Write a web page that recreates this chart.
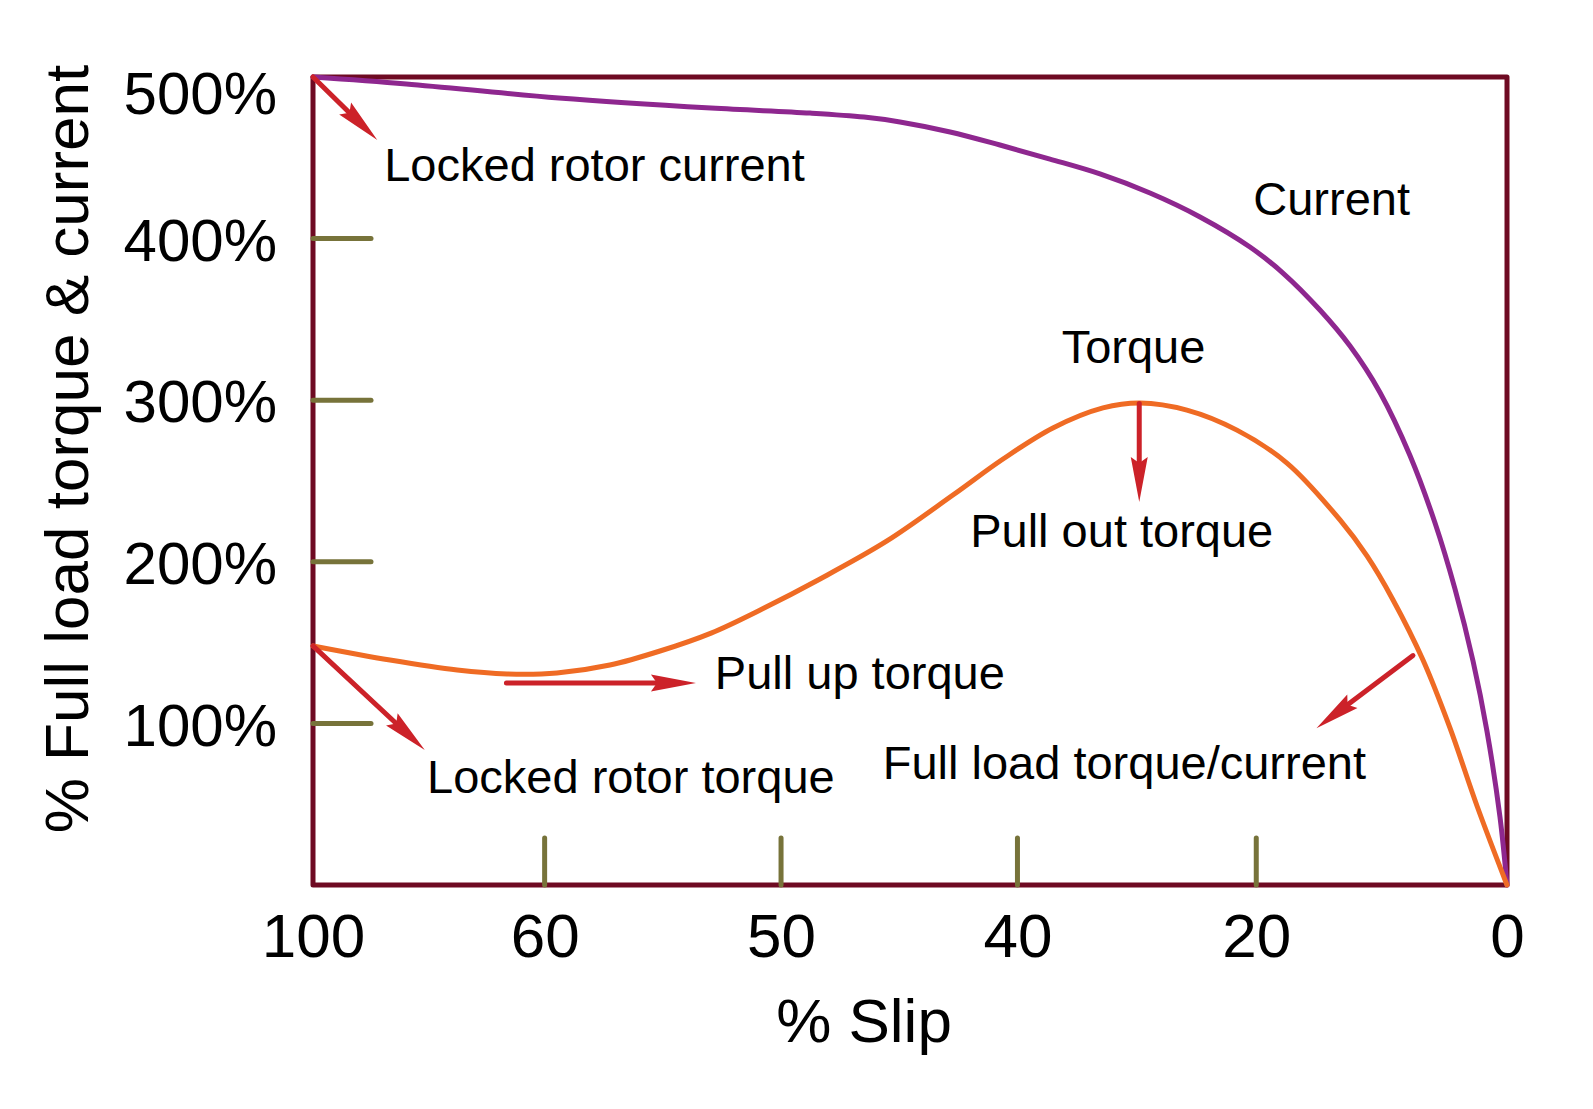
<!DOCTYPE html>
<html>
<head>
<meta charset="utf-8">
<script src="https://cdn.jsdelivr.net/npm/d3@7"></script>
<style>
  body { margin: 0; background: #ffffff; }
  svg { display: block; }
</style>
</head>
<body>
<div id="chart"></div>
<script>
// axis ticks
const slipTicks = [100, 60, 50, 40, 20, 0];
const pctTicks = [100, 200, 300, 400, 500];
const slipMarks = [60, 50, 40, 20];
const pctMarks = [100, 200, 300, 400];

// current curve (% slip, % full load)
const currentSlip = [100, 83.9, 59.4, 52.96, 48.77, 46.49, 44.97, 42.85, 40.74, 37.28, 33.09, 28.9, 24.71, 20.53, 17.87, 14.92, 12.52, 10.13, 7.74, 5.74, 4.15, 2.71, 1.6, 0.56, 0];
const currentPct = [500, 495.7, 487, 480.8, 477.7, 475.2, 472.2, 466, 457.9, 449.2, 440, 428.2, 413.4, 394.8, 378.7, 355.8, 333.5, 304.8, 265.8, 224, 183.2, 138.6, 95.3, 42.1, 0];

// torque curve
const torqueSlip = [100, 86.7, 75.1, 66.5, 59.48, 57.24, 55.12, 52.96, 50.8, 48.35, 45.52, 42.73, 40.61, 37.03, 32.84, 29.74, 25.81, 21.62, 17.55, 13.32, 11.17, 9.09, 6.7, 4.55, 2.39, 0];
const torquePct = [147.9, 139.2, 133, 130.6, 131.2, 136.1, 144.8, 155.9, 170.8, 189.4, 212.9, 241.3, 263.6, 282.8, 295.2, 298.3, 293.9, 281.5, 261.1, 225.9, 203.6, 176.4, 139.2, 97.2, 48.9, 0];

// annotations
const labelTexts = ["Locked rotor current", "Current", "Torque", "Pull out torque", "Pull up torque", "Locked rotor torque", "Full load torque/current"];
const labelSlip = [87.7, 20.25, 36.3, 42.0, 52.8, 80.3, 45.7];
const labelPct = [435.6, 414.6, 323, 209.3, 121.3, 56.9, 65.6];

const arrowFrom = [[100, 500], [100, 148], [66.6, 125], [29.8, 298], [7.5, 142]];
const arrowTo = [[88.9, 461], [80.7, 83.5], [53.6, 125], [29.8, 237], [15.2, 97]];

const width = 1593;
const height = 1109;
const margin = { top: 77, right: 86, bottom: 224, left: 313 };
const innerW = width - margin.left - margin.right;

// the slip axis is not linear: each tick sits at its own place along the frame
const slipTickFrac = [0, 0.194, 0.392, 0.59, 0.79, 1];

const fontFamily = "'Liberation Sans', Arial, Helvetica, sans-serif";
const colors = {
  frame: "#6e0a22",
  tick: "#77733a",
  current: "#8e278f",
  torque: "#ef6b24",
  arrow: "#cc2229",
  text: "#000000",
};

const x = d3
  .scaleLinear()
  .domain(slipTicks)
  .range(slipTickFrac.map((f) => margin.left + f * innerW));

const y = d3
  .scaleLinear()
  .domain([0, 500])
  .range([height - margin.bottom, margin.top]);

const svg = d3
  .select("#chart")
  .append("svg")
  .attr("width", width)
  .attr("height", height)
  .attr("viewBox", `0 0 ${width} ${height}`)
  .style("font-family", fontFamily);

svg.append("rect").attr("width", width).attr("height", height).attr("fill", "#ffffff");

// frame
svg
  .append("rect")
  .attr("x", x(100))
  .attr("y", y(500))
  .attr("width", x(0) - x(100))
  .attr("height", y(0) - y(500))
  .attr("fill", "none")
  .attr("stroke", colors.frame)
  .attr("stroke-width", 5)
  .attr("stroke-linejoin", "round");

// inner tick marks
svg
  .selectAll(".y-mark")
  .data(pctMarks)
  .enter()
  .append("line")
  .attr("class", "y-mark")
  .attr("x1", x(100))
  .attr("x2", x(100) + 58)
  .attr("y1", (d) => y(d))
  .attr("y2", (d) => y(d))
  .attr("stroke", colors.tick)
  .attr("stroke-width", 5)
  .attr("stroke-linecap", "round");

svg
  .selectAll(".x-mark")
  .data(slipMarks)
  .enter()
  .append("line")
  .attr("class", "x-mark")
  .attr("x1", (d) => x(d))
  .attr("x2", (d) => x(d))
  .attr("y1", y(0))
  .attr("y2", y(0) - 47)
  .attr("stroke", colors.tick)
  .attr("stroke-width", 5)
  .attr("stroke-linecap", "round");

// tick labels
const yAxis = svg
  .append("g")
  .attr("transform", `translate(${x(100)},0)`)
  .call(
    d3
      .axisLeft(y)
      .tickValues(pctTicks)
      .tickSize(0)
      .tickPadding(36)
      .tickFormat((d) => d + "%"),
  );
yAxis.select(".domain").remove();
yAxis
  .selectAll("text")
  .attr("fill", colors.text)
  .attr("dy", "0.36em")
  .style("font-size", "60px")
  .style("font-family", fontFamily);
yAxis
  .selectAll(".tick")
  .filter((d) => d === 500)
  .select("text")
  .attr("dy", "0.6em");

const xAxis = svg
  .append("g")
  .attr("transform", `translate(0,${y(0)})`)
  .call(
    d3
      .axisBottom(x)
      .tickValues(slipTicks)
      .tickSize(0)
      .tickPadding(28)
      .tickFormat(d3.format("d")),
  );
xAxis.select(".domain").remove();
xAxis
  .selectAll("text")
  .attr("fill", colors.text)
  .style("font-size", "62px")
  .style("font-family", fontFamily);

// axis titles
svg
  .append("text")
  .attr("x", margin.left + innerW * 0.4615)
  .attr("y", 1042)
  .attr("text-anchor", "middle")
  .attr("fill", colors.text)
  .style("font-size", "62px")
  .text("% Slip");

svg
  .append("text")
  .attr("transform", "translate(88,449) rotate(-90)")
  .attr("text-anchor", "middle")
  .attr("fill", colors.text)
  .style("font-size", "62px")
  .text("% Full load torque & current");

// curves
const line = d3
  .line()
  .x((d) => x(d[0]))
  .y((d) => y(d[1]))
  .curve(d3.curveCatmullRom.alpha(0.5));

const currentData = currentSlip.map((s, i) => [s, currentPct[i]]);
const torqueData = torqueSlip.map((s, i) => [s, torquePct[i]]);

svg
  .append("path")
  .datum(currentData)
  .attr("d", line)
  .attr("fill", "none")
  .attr("stroke", colors.current)
  .attr("stroke-width", 5)
  .attr("stroke-linecap", "round");

svg
  .append("path")
  .datum(torqueData)
  .attr("d", line)
  .attr("fill", "none")
  .attr("stroke", colors.torque)
  .attr("stroke-width", 5)
  .attr("stroke-linecap", "round");

// arrows
const arrows = arrowFrom.map((from, i) => {
  const x0 = x(from[0]);
  const y0 = y(from[1]);
  const x1 = x(arrowTo[i][0]);
  const y1 = y(arrowTo[i][1]);
  const len = Math.hypot(x1 - x0, y1 - y0);
  const ux = (x1 - x0) / len;
  const uy = (y1 - y0) / len;
  const nx = -uy;
  const ny = ux;
  const headLen = 45;
  const headHalf = 8.5;
  const notch = 6;
  const bx = x1 - ux * headLen;
  const by = y1 - uy * headLen;
  return {
    shaft: [[x0, y0], [bx + ux * notch, by + uy * notch]],
    head: [
      [x1, y1],
      [bx + nx * headHalf, by + ny * headHalf],
      [bx + ux * notch, by + uy * notch],
      [bx - nx * headHalf, by - ny * headHalf],
    ],
  };
});

const arrowGroup = svg.append("g").attr("class", "arrows");

arrowGroup
  .selectAll(".arrow-shaft")
  .data(arrows)
  .enter()
  .append("line")
  .attr("class", "arrow-shaft")
  .attr("x1", (d) => d.shaft[0][0])
  .attr("y1", (d) => d.shaft[0][1])
  .attr("x2", (d) => d.shaft[1][0])
  .attr("y2", (d) => d.shaft[1][1])
  .attr("stroke", colors.arrow)
  .attr("stroke-width", 5)
  .attr("stroke-linecap", "round");

arrowGroup
  .selectAll(".arrow-head")
  .data(arrows)
  .enter()
  .append("path")
  .attr("class", "arrow-head")
  .attr("d", (d) => "M" + d.head.map((p) => p.join(",")).join("L") + "Z")
  .attr("fill", colors.arrow);

// annotation labels
svg
  .selectAll(".annotation")
  .data(labelTexts)
  .enter()
  .append("text")
  .attr("class", "annotation")
  .attr("x", (d, i) => x(labelSlip[i]))
  .attr("y", (d, i) => y(labelPct[i]))
  .attr("fill", colors.text)
  .style("font-size", "47px")
  .text((d) => d);
</script>
</body>
</html>
